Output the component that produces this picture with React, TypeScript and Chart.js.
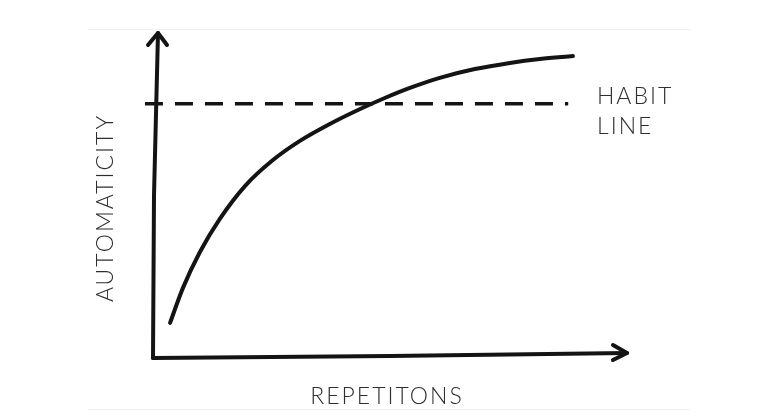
import React, { useEffect, useRef } from "react";
import { Chart, registerables } from "chart.js";

Chart.register(...registerables);

// Habit curve: repetitions (x) vs automaticity (y), abstract 0..100 units
const repetitions = [3.6, 6.3, 9.9, 14.1, 19.4, 25.3, 31.0, 37.3, 43.7, 48.9, 54.2, 60.5, 67.9, 75.3, 81.6, 88.6];
const automaticity = [10.8, 21.5, 32.6, 42.8, 52.9, 60.9, 66.8, 72.0, 76.6, 80.0, 83.1, 86.2, 88.9, 90.8, 92.0, 92.9];

// Habit line (dashed threshold)
const habitLineX = [-1.7, 87.6];
const habitLineY = [78.2, 78.2];

const xAxisLabel = "REPETITONS";
const yAxisLabel = "AUTOMATICITY";
const habitLabel = ["HABIT", "LINE"];

const INK = "#141414";
const FONT = "300 23px Lato, 'Open Sans', sans-serif";

const sketchPlugin = {
  id: "sketch",
  beforeDraw(chart: any) {
    const { ctx } = chart;
    ctx.save();
    ctx.fillStyle = "#ffffff";
    ctx.fillRect(0, 0, chart.width, chart.height);
    ctx.strokeStyle = "#f1f1f1";
    ctx.lineWidth = 1;
    ctx.beginPath();
    ctx.moveTo(88, 29.5);
    ctx.lineTo(690, 29.5);
    ctx.moveTo(88, 409.5);
    ctx.lineTo(690, 409.5);
    ctx.stroke();
    ctx.restore();
  },
  afterDatasetsDraw(chart: any) {
    const { ctx, scales, chartArea } = chart;
    const xs = scales.x;
    const ys = scales.y;
    const x0 = xs.getPixelForValue(0);
    const y0 = ys.getPixelForValue(0);
    const yTop = chartArea.top;
    const xRight = chartArea.right;
    ctx.save();
    ctx.strokeStyle = INK;
    ctx.lineWidth = 4;
    ctx.lineCap = "round";
    ctx.lineJoin = "round";
    // y axis (slightly leaning like hand drawn)
    ctx.beginPath();
    ctx.moveTo(x0, y0);
    ctx.lineTo(x0 + 1, (y0 + yTop) / 2);
    ctx.lineTo(x0 + 5, yTop);
    ctx.stroke();
    // y arrow head
    ctx.beginPath();
    ctx.moveTo(x0 - 5, yTop + 12);
    ctx.lineTo(x0 + 5, yTop);
    ctx.lineTo(x0 + 14, yTop + 12);
    ctx.stroke();
    // x axis
    ctx.beginPath();
    ctx.moveTo(x0, y0);
    ctx.lineTo((x0 + xRight) / 2, y0 - 2);
    ctx.lineTo(xRight, y0 - 5);
    ctx.stroke();
    // x arrow head
    ctx.beginPath();
    ctx.moveTo(xRight - 14, y0 - 13);
    ctx.lineTo(xRight, y0 - 5);
    ctx.lineTo(xRight - 14, y0 + 2);
    ctx.stroke();

    // labels
    ctx.fillStyle = "#2e2e2e";
    ctx.font = FONT;
    (ctx as any).letterSpacing = "2px";
    ctx.textBaseline = "alphabetic";
    ctx.textAlign = "center";
    ctx.fillText(xAxisLabel, 387, 404);
    ctx.save();
    ctx.translate(113, 208);
    ctx.rotate(-Math.PI / 2);
    ctx.fillText(yAxisLabel, 0, 0);
    ctx.restore();
    ctx.textAlign = "left";
    ctx.fillText(habitLabel[0], 597, 104);
    ctx.fillText(habitLabel[1], 597, 134);
    ctx.restore();
  },
};

export default function App() {
  const ref = useRef<HTMLCanvasElement | null>(null);
  useEffect(() => {
    document.body.style.margin = "0";
    const canvas = ref.current!;
    const curve = repetitions.map((x, i) => ({ x, y: automaticity[i] }));
    const habit = habitLineX.map((x, i) => ({ x, y: habitLineY[i] }));
    const chart = new Chart(canvas, {
      type: "scatter",
      data: {
        datasets: [
          {
            data: habit,
            showLine: true,
            borderColor: INK,
            borderWidth: 3.5,
            borderDash: [18, 12],
            pointRadius: 0,
            clip: false,
          } as any,
          {
            data: curve,
            showLine: true,
            borderColor: INK,
            borderWidth: 4,
            borderCapStyle: "round",
            cubicInterpolationMode: "monotone",
            pointRadius: 0,
            clip: false,
          } as any,
        ],
      },
      options: {
        animation: false,
        responsive: false,
        maintainAspectRatio: false,
        layout: { padding: { left: 153, right: 141, top: 33, bottom: 60 } },
        plugins: { legend: { display: false }, tooltip: { enabled: false }, title: { display: false } },
        scales: {
          x: { type: "linear", min: 0, max: 100, display: false },
          y: { type: "linear", min: 0, max: 100, display: false },
        },
      },
      plugins: [sketchPlugin],
    });
    return () => chart.destroy();
  }, []);
  return (
    <div style={{ position: "absolute", left: 0, top: 0, width: 768, height: 418 }}>
      <canvas ref={ref} width={768} height={418} style={{ display: "block", width: 768, height: 418 }} />
    </div>
  );
}
